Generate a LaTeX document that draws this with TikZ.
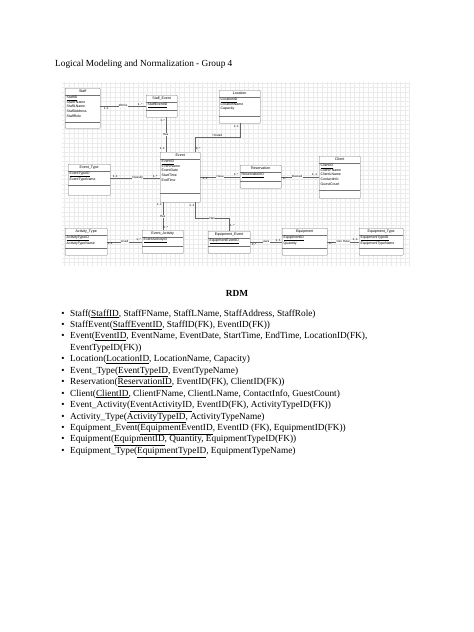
\documentclass[tikz,border=0pt]{standalone}
\usepackage{fontspec}
\setmainfont{Liberation Serif}
\setsansfont{Liberation Sans}

% one class box of the diagram: name, x, y, width, height, title, separator offset, attributes
\newcommand{\entbox}[8]{%
	\node[ent, minimum width=#4pt, minimum height=#5pt, anchor=north west] (#1) at (#2,#3) {};
	\node[enttitle] (#1-t) at ([yshift=-3.6pt]#1.north) {#6};
	\draw[entline] ([yshift=-7pt]#1.north west) -- ([yshift=-7pt]#1.north east);
	\node[entattr] (#1-a) at ([xshift=1.5pt,yshift=-7.8pt]#1.north west) {#8};
	\draw[entline] ([yshift=-#7pt]#1.north west) -- ([yshift=-#7pt]#1.north east);
}

\begin{document}
\begin{tikzpicture}
		[x=1pt,y=-1pt,
		ent/.style={draw=black!55,line width=0.35pt,fill=white,rounded corners=0.6pt,inner sep=0pt},
		enttitle/.style={font=\fontsize{3.6}{4}\sffamily,inner sep=0pt},
		entattr/.style={font=\fontsize{3.5}{4.7}\sffamily,inner sep=0pt,align=left,anchor=north west},
		entline/.style={draw=black!55,line width=0.35pt},
		rel/.style={draw=black!60,line width=0.35pt},
		lbl/.style={font=\fontsize{3}{3}\sffamily,fill=white,inner sep=0.4pt},
		mult/.style={font=\fontsize{3}{3}\sffamily,inner sep=0.6pt},
		txt/.style={font=\fontsize{9.3}{11}\selectfont,inner sep=0pt,anchor=base west}]

		\useasboundingbox (0,0) rectangle (474,632);
		\fill[white] (0,0) rectangle (474,632);

		% background grid of the screenshot
		\draw[black!8,line width=0.2pt,step=4.6pt] (62,82) grid (410,266);

		\node[txt] (title) at (55,66) {Logical Modeling and Normalization - Group 4};

		% class boxes
		\entbox{staff}{65}{88}{35}{40}{Staff}{34}{\underline{StaffID}\\StaffFName\\StaffLName\\StaffAddress\\StaffRole}
		\entbox{staffevent}{146}{95}{31}{22}{Staff\_Event}{15}{\underline{StaffEventID}}
		\entbox{location}{219}{90}{41}{33}{Location}{26}{\underline{LocationID}\\LocationName\\Capacity}
		\entbox{eventtype}{68}{164}{42}{31}{Event\_Type}{21}{\underline{EventTypeID}\\EventTypeName}
		\entbox{event}{160}{152}{40}{50}{Event}{41}{\underline{EventID}\\EventName\\EventDate\\StartTime\\EndTime}
		\entbox{reservation}{240}{165}{41}{23}{Reservation}{16}{\underline{ReservationID}}
		\entbox{client}{319}{156}{41}{42}{Client}{34}{\underline{ClientID}\\ClientFName\\ClientLName\\ContactInfo\\GuestCount}
		\entbox{activitytype}{65}{228}{42}{27}{Activity\_Type}{20}{\underline{ActivityTypeID}\\ActivityTypeName}
		\entbox{eventactivity}{142}{230}{41}{23}{Event\_Activity}{16}{\underline{EventActivityID}}
		\entbox{equipevent}{208}{231}{42}{22}{Equipment\_Event}{15}{\underline{EquipmentEventID}}
		\entbox{equipment}{282}{228}{45}{27}{Equipment}{20}{\underline{EquipmentID}\\Quantity}
		\entbox{equiptype}{359}{228}{44}{27}{Equipment\_Type}{20}{\underline{EquipmentTypeID}\\EquipmentTypeName}

		% relations
		\draw[rel] (staff.east |- staffevent.west) -- (staffevent.west)
			node[mult, pos=0.06, below right] {1..1}
			node[lbl, pos=0.5, yshift=1pt] {Works}
			node[mult, pos=0.94, above left] {1..*}
		;
		\draw[rel] ([xshift=4pt]staffevent.south) -- ([xshift=4pt]staffevent.south |- event.north)
			node[mult, pos=0.08, left] {1..*}
			node[lbl, pos=0.5] {Has}
			node[mult, pos=0.9, left] {1..1}
		;
		\draw[rel] (location.south) -- node[mult, pos=0.2, left] {1..1} (location.south |- 0,137)
			-| node[lbl, pos=0.25, above] {Hosted} node[mult, pos=0.88, right] {0..*} ([xshift=15pt]event.north)
		;
		\draw[rel] (eventtype.east |- 0,178) -- (event.west |- 0,178)
			node[mult, pos=0.1, above] {1..1}
			node[lbl, pos=0.55] {Classify}
			node[mult, pos=0.9, above] {1..*}
		;
		\draw[rel] (event.east |- reservation.west) -- (reservation.west)
			node[mult, pos=0.12, below] {1..1}
			node[lbl, pos=0.5] {Have}
			node[mult, pos=0.9, above] {1..*}
		;
		\draw[rel] (reservation.east) -- (client.west |- reservation.east)
			node[mult, pos=0.1, below] {0..*}
			node[lbl, pos=0.42] {Booked}
			node[mult, pos=0.88, above] {1..1}
		;
		\draw[rel] (eventactivity.north |- event.south) -- (eventactivity.north)
			node[mult, pos=0.08, left] {1..1}
			node[lbl, pos=0.5] {Has}
			node[mult, pos=0.9, right] {0..*}
		;
		\draw[rel] ([xshift=15pt]event.south) |- node[mult, pos=0.1, left] {1..1} node[lbl, pos=0.75] {Has}
			([yshift=13pt]equipevent.north) -- node[mult, pos=0.6, right] {1..*} (equipevent.north)
		;
		\draw[rel] (activitytype.east |- eventactivity.west) -- (eventactivity.west)
			node[mult, pos=0.08, below] {1..1}
			node[lbl, pos=0.5] {Used}
			node[mult, pos=0.9, above] {1..*}
		;
		\draw[rel] (equipevent.east) -- (equipment.west |- equipevent.east)
			node[mult, pos=0.12, below] {0..*}
			node[lbl, pos=0.5] {uses}
			node[mult, pos=0.88, above] {1..1}
		;
		\draw[rel] (equipment.east) -- (equiptype.west |- equipment.east)
			node[mult, pos=0.12, below] {0..*}
			node[lbl, pos=0.5] {Can Have}
			node[mult, pos=0.88, above] {1..1}
		;

		% relational data model
		\node[txt, anchor=base, font=\fontsize{9.3}{11}\selectfont\bfseries] (rdm) at (237,296) {RDM};

		\foreach \b/\t [count=\i] in {
			1/{Staff(\underline{StaffID}, StaffFName, StaffLName, StaffAddress, StaffRole)},
			1/{StaffEvent(\underline{StaffEventID}, StaffID(FK), EventID(FK))},
			1/{Event(\underline{EventID}, EventName, EventDate, StartTime, EndTime, LocationID(FK),},
			0/{EventTypeID(FK))},
			1/{Location(\underline{LocationID}, LocationName, Capacity)},
			1/{Event\_Type(\underline{EventTypeID}, EventTypeName)},
			1/{Reservation(\underline{ReservationID}, EventID(FK), ClientID(FK))},
			1/{Client(\underline{ClientID}, ClientFName, ClientLName, ContactInfo, GuestCount)},
			1/{Event\_Activity(\underline{EventActivityID}, EventID(FK), ActivityTypeID(FK))},
			1/{Activity\_Type(\underline{ActivityTypeID}, ActivityTypeName)},
			1/{Equipment\_Event(\underline{EquipmentEventID}, EventID (FK), EquipmentID(FK))},
			1/{Equipment(\underline{EquipmentID}, Quantity, EquipmentTypeID(FK))},
			1/{Equipment\_Type(\underline{EquipmentTypeID}, EquipmentTypeName)}}
		{
			\node[txt] (rdm\i) at (70,{316+11.45*(\i-1)}) {\t};
			\ifnum\b=1
				\node[txt, anchor=base] (bul\i) at (63,{316+11.45*(\i-1)}) {\textbullet};
			\fi
		}
\end{tikzpicture}
\end{document}
